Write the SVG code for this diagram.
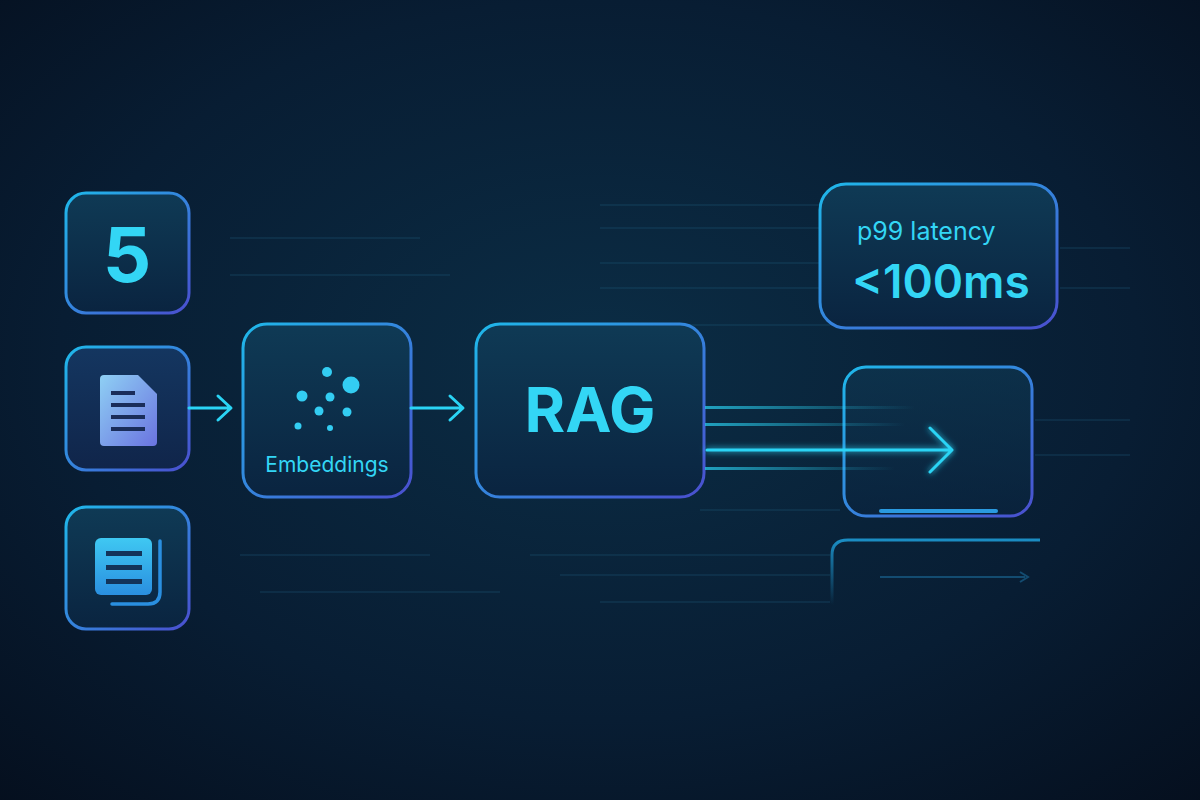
<svg xmlns="http://www.w3.org/2000/svg" width="1200" height="800" viewBox="0 0 1200 800">
<defs>
<radialGradient id="bg" cx="0.5" cy="0.45" r="0.75"><stop offset="0" stop-color="#0b2d45"/><stop offset="0.6" stop-color="#081d33"/><stop offset="1" stop-color="#050f1e"/></radialGradient>
<linearGradient id="stroke" x1="0" y1="0" x2="1" y2="1"><stop offset="0" stop-color="#1fb8ea"/><stop offset="1" stop-color="#4a4fcf"/></linearGradient>
<linearGradient id="fill" x1="0" y1="0" x2="0" y2="1"><stop offset="0" stop-color="#0f3a55"/><stop offset="1" stop-color="#0a2440"/></linearGradient>
<linearGradient id="fill2" x1="0" y1="0" x2="0" y2="1"><stop offset="0" stop-color="#143660"/><stop offset="1" stop-color="#10254a"/></linearGradient>
<linearGradient id="doc" x1="0" y1="0" x2="1" y2="1"><stop offset="0" stop-color="#8fd0f4"/><stop offset="1" stop-color="#6a73e0"/></linearGradient>
<linearGradient id="doc2" x1="0" y1="0" x2="0" y2="1"><stop offset="0" stop-color="#3fc8f2"/><stop offset="1" stop-color="#2a8fe0"/></linearGradient>
<linearGradient id="streak" x1="0" y1="0" x2="1" y2="0"><stop offset="0" stop-color="#2ad4f5" stop-opacity="0.7"/><stop offset="1" stop-color="#2ad4f5" stop-opacity="0"/></linearGradient>
<linearGradient id="faint" gradientUnits="userSpaceOnUse" x1="0" y1="540" x2="0" y2="605"><stop offset="0" stop-color="#1fa8e6" stop-opacity="0.8"/><stop offset="1" stop-color="#1fa8e6" stop-opacity="0"/></linearGradient>
<filter id="glow" x="-20%" y="-20%" width="140%" height="140%"><feGaussianBlur stdDeviation="3" result="b"/><feMerge><feMergeNode in="b"/><feMergeNode in="SourceGraphic"/></feMerge></filter>
</defs>
<style>
.box{fill:url(#fill);stroke:url(#stroke);stroke-width:3}
.t{font-family:Inter,"Liberation Sans",sans-serif;fill:#33d6f5}
.bgl{stroke:#1d5a7a;stroke-width:2;opacity:0.25}
.conn{stroke:#2ad4f5;stroke-width:3;fill:none;stroke-linecap:round;stroke-linejoin:round}
</style>
<rect width="1200" height="800" fill="url(#bg)"/>
<g id="background-lines">
<line class="bgl" x1="230" y1="238" x2="420" y2="238"/>
<line class="bgl" x1="230" y1="275" x2="450" y2="275"/>
<line class="bgl" x1="240" y1="555" x2="430" y2="555"/>
<line class="bgl" x1="260" y1="592" x2="500" y2="592"/>
<line class="bgl" x1="600" y1="205" x2="820" y2="205"/>
<line class="bgl" x1="600" y1="228" x2="820" y2="228"/>
<line class="bgl" x1="600" y1="263" x2="820" y2="263"/>
<line class="bgl" x1="600" y1="288" x2="820" y2="288"/>
<line class="bgl" x1="620" y1="325" x2="830" y2="325"/>
<line class="bgl" x1="1060" y1="248" x2="1130" y2="248"/>
<line class="bgl" x1="1060" y1="288" x2="1130" y2="288"/>
<line class="bgl" x1="1035" y1="420" x2="1130" y2="420"/>
<line class="bgl" x1="1035" y1="455" x2="1130" y2="455"/>
<line class="bgl" x1="530" y1="555" x2="830" y2="555"/>
<line class="bgl" x1="560" y1="575" x2="830" y2="575"/>
<line class="bgl" x1="600" y1="602" x2="830" y2="602"/>
<line class="bgl" x1="700" y1="510" x2="840" y2="510"/>
</g>
<g id="node-five">
<rect class="box" x="66" y="193" width="123" height="120" rx="20"/>
<text class="t" x="127" y="282" text-anchor="middle" font-size="76" font-weight="700">5</text>
</g>
<g id="node-doc">
<rect x="66" y="347" width="123" height="123" rx="20" fill="url(#fill2)" stroke="url(#stroke)" stroke-width="3"/>
<path d="M104 375 H138 L157 394 V442 Q157 446 153 446 H104 Q100 446 100 442 V379 Q100 375 104 375 Z" fill="url(#doc)"/>
<g fill="#1a2d5a"><rect x="111" y="391" width="24" height="4"/><rect x="111" y="403" width="34" height="4"/><rect x="111" y="415" width="34" height="4"/><rect x="111" y="427" width="34" height="4"/></g>
</g>
<g id="node-stack">
<rect class="box" x="66" y="507" width="123" height="122" rx="20"/>
<path d="M160 541 V592 Q160 604 148 604 H112" stroke="#2a8fe0" stroke-width="3.5" fill="none" stroke-linecap="round"/>
<rect x="95" y="538" width="57" height="57" rx="6" fill="url(#doc2)"/>
<g fill="#13345a"><rect x="106" y="551" width="36" height="5"/><rect x="106" y="565" width="36" height="5"/><rect x="106" y="579" width="36" height="5"/></g>
</g>
<g id="node-embeddings">
<rect class="box" x="243" y="324" width="168" height="173" rx="24"/>
<g fill="#33cdf2"><circle cx="327" cy="372" r="5"/><circle cx="351" cy="385" r="8.5"/><circle cx="302" cy="396" r="5.5"/><circle cx="330" cy="397" r="4.5"/><circle cx="319" cy="411" r="4.5"/><circle cx="347" cy="412" r="4.5"/><circle cx="298" cy="426" r="3.5"/><circle cx="330" cy="428" r="3"/></g>
<text class="t" x="327" y="472" text-anchor="middle" font-size="21">Embeddings</text>
</g>
<g id="node-rag">
<rect class="box" x="476" y="324" width="228" height="173" rx="24"/>
<text class="t" x="590" y="432" text-anchor="middle" font-size="62" font-weight="700">RAG</text>
</g>
<g id="node-latency">
<rect class="box" x="820" y="184" width="237" height="144" rx="26"/>
<text class="t" x="857" y="240" font-size="25">p99 latency</text>
<text class="t" x="852" y="298" font-size="46" font-weight="600">&lt;100ms</text>
</g>
<g id="node-output">
<rect class="box" x="844" y="367" width="188" height="149" rx="22" fill-opacity="0.6"/>
<rect x="879" y="509" width="119" height="4" rx="2" fill="#2a9ae0"/>
</g>
<g id="node-faint">
<path d="M832 605 V555 Q832 540 848 540 H1040" stroke="url(#faint)" stroke-width="3" fill="none"/>
</g>
<g id="connectors">
<path class="conn" d="M189 408 H230 M218 396 L231 408 L218 420"/>
<path class="conn" d="M411 408 H462 M450 396 L463 408 L450 420"/>
<rect x="705" y="406" width="210" height="3" fill="url(#streak)"/>
<rect x="705" y="423" width="200" height="3" fill="url(#streak)"/>
<rect x="705" y="467" width="190" height="3" fill="url(#streak)"/>
<path class="conn" d="M707 450 H950 M930 428 L952 450 L930 472" filter="url(#glow)"/>
<path d="M880 577 H1025 M1020 572 L1028 577 L1020 582" stroke="#1a6a9a" stroke-width="2" fill="none" opacity="0.6"/>
</g>
</svg>
